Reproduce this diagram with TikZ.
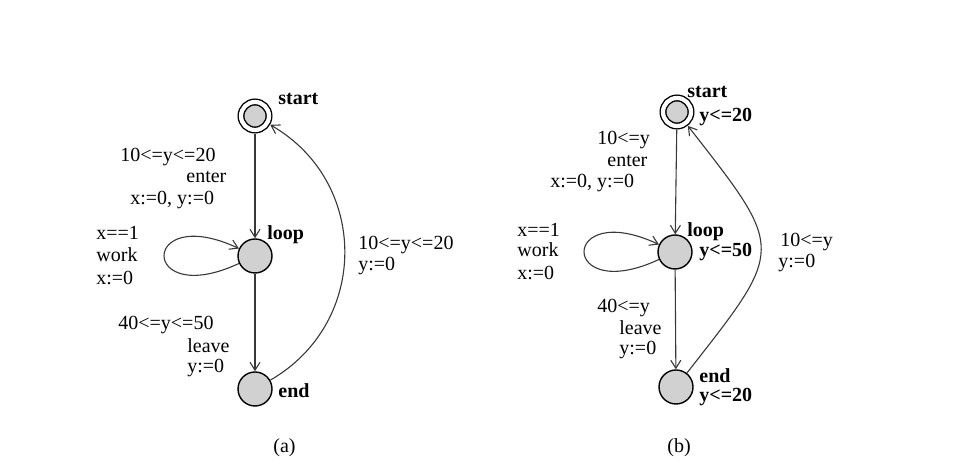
\documentclass[tikz,border=0pt]{standalone}
\usepackage{fontspec}
\setmainfont{Liberation Serif}
\usetikzlibrary{arrows.meta}
\tikzset{
    loc/.style = {
        draw,
        circle,
        line width=0.7pt,
        fill=black!18,
        minimum size=17pt,
        inner sep=0pt,
        },
    init loc/.style = {
        loc,
        minimum size=14pt,
        double,
        double distance=2.1pt,
        outer sep=1.8pt,
        },
    loc name/.style = {
        font=\bfseries,
        anchor=base west,
        inner sep=0pt,
        },
    lbl/.style = {
        anchor=base west,
        inner sep=0pt,
        },
    trans/.style = {
        draw=black!78,
        line width=0.55pt,
        -{Straight Barb[length=4pt,width=5pt]},
        },
    self/.style = {
        trans,
        out=205,
        in=155,
        looseness=8,
        min distance=55pt,
        },
}
\begin{document}
\begin{tikzpicture}[x=0.5pt,y=0.5pt,font=\fontsize{10pt}{12pt}\selectfont]
        \useasboundingbox (0,0) rectangle (957,469);
        % (a)
        \node[init loc] (startA) at (255,353) {};
        \node[loc] (loopA) at (255,213) {};
        \node[loc] (endA) at (255,80) {};
        \node[loc name] (startAname) at (278,364) {start};
        \node[loc name] (loopAname) at (267,229) {loop};
        \node[loc name] (endAname) at (278,71) {end};

        \path (startA) edge[trans] (loopA);
        \path (loopA) edge[self] (loopA);
        \path (loopA) edge[trans] (endA);
        \path (endA) edge[trans, out=30, in=-30, looseness=1.15] (startA);

        \node[lbl] (enterAg) at (120,307) {10<=y<=20};
        \node[lbl] (enterAs) at (186,286) {enter};
        \node[lbl] (enterAu) at (130,264) {x:=0, y:=0};
        \node[lbl] (workAg) at (96,229) {x==1};
        \node[lbl] (workAs) at (96,207) {work};
        \node[lbl] (workAu) at (96,184) {x:=0};
        \node[lbl] (leaveAg) at (118,139) {40<=y<=50};
        \node[lbl] (leaveAs) at (187,116) {leave};
        \node[lbl] (leaveAu) at (187,96) {y:=0};
        \node[lbl] (backAg) at (358,219) {10<=y<=20};
        \node[lbl] (backAu) at (358,198) {y:=0};
        \node[lbl] (capA) at (273,16) {(a)};

        % (b)
        \node[init loc] (startB) at (677,357) {};
        \node[loc] (loopB) at (675,217) {};
        \node[loc] (endB) at (676,82) {};
        \node[loc name] (startBname) at (687,371) {start};
        \node[loc name] (startBinv) at (699,347) {y<=20};
        \node[loc name] (loopBname) at (687,232) {loop};
        \node[loc name] (loopBinv) at (699,212) {y<=50};
        \node[loc name] (endBname) at (699,86) {end};
        \node[loc name] (endBinv) at (699,67) {y<=20};

        \path (startB) edge[trans] (loopB);
        \path (loopB) edge[self] (loopB);
        \path (loopB) edge[trans] (endB);
        \path (endB) edge[trans, out=52, in=-52, looseness=1.65] (startB);

        \node[lbl] (enterBg) at (597,324) {10<=y};
        \node[lbl] (enterBs) at (607,302) {enter};
        \node[lbl] (enterBu) at (550,281) {x:=0, y:=0};
        \node[lbl] (workBg) at (517,232) {x==1};
        \node[lbl] (workBs) at (517,212) {work};
        \node[lbl] (workBu) at (517,189) {x:=0};
        \node[lbl] (leaveBg) at (597,156) {40<=y};
        \node[lbl] (leaveBs) at (619,134) {leave};
        \node[lbl] (leaveBu) at (619,114) {y:=0};
        \node[lbl] (backBg) at (780,222) {10<=y};
        \node[lbl] (backBu) at (778,201) {y:=0};
        \node[lbl] (capB) at (667,16) {(b)};
\end{tikzpicture}
\end{document}
